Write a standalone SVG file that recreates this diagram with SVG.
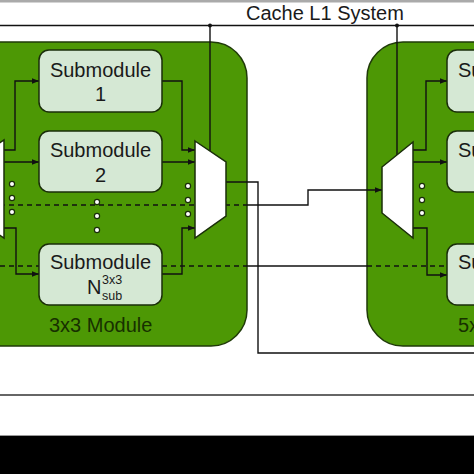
<svg xmlns="http://www.w3.org/2000/svg" width="474" height="474" viewBox="0 0 474 474">
<defs>
<marker id="arr" viewBox="0 0 10 10" refX="10" refY="5" markerWidth="7" markerHeight="7" markerUnits="userSpaceOnUse" orient="auto"><path d="M0,1 L10,5 L0,9 z" fill="#111"/></marker>
</defs>
<style>
.mod{fill:#4d9805;stroke:#1f3a08;stroke-width:1.5}
.box{fill:#d5e8d4;stroke:#1a2e0a;stroke-width:1.5}
.mux{fill:#fff;stroke:#1a2e0a;stroke-width:1.5}
.t{font-family:"Liberation Sans",Arial,sans-serif;font-size:20px;fill:#1a1a1a}
.s{font-size:12.5px}
.g{fill:#173000}
.ln{fill:none;stroke:#111;stroke-width:1.4}
.ds{fill:none;stroke:#111;stroke-width:1.4;stroke-dasharray:5,4}
.dot{fill:#fff;stroke:#1a2e0a;stroke-width:1.2}
.jn{fill:#111}
</style>
<rect x="0" y="0" width="474" height="474" fill="#fff"/>
<rect x="0" y="0" width="474" height="2.5" fill="#aaa"/>
<g id="module3x3"><rect class="mod" x="-40" y="42" width="287" height="304" rx="36"/></g>
<g id="module5x5"><rect class="mod" x="367" y="42" width="180" height="304" rx="36"/></g>
<text class="t" x="246" y="20">Cache L1 System</text>
<g id="connectors">
<path class="ln" d="M0,25.5 H474"/>
<path class="ln" d="M210,25.5 V151"/>
<path class="ln" d="M397,25.5 V155"/>
<circle class="jn" cx="210" cy="25.5" r="2"/>
<circle class="jn" cx="397" cy="25.5" r="2"/>
<path class="ln" d="M4,150 H15 V81 H39" marker-end="url(#arr)"/>
<path class="ln" d="M4,162 H39" marker-end="url(#arr)"/>
<path class="ln" d="M4,228 H16 V274 H39" marker-end="url(#arr)"/>
<path class="ln" d="M162,81 H182 V150 H195" marker-end="url(#arr)"/>
<path class="ln" d="M162,162 H195" marker-end="url(#arr)"/>
<path class="ln" d="M162,274 H182 V228 H195" marker-end="url(#arr)"/>
<path class="ds" d="M0,205 H247"/>
<path class="ln" d="M247,205 H308 V190 H382" marker-end="url(#arr)"/>
<path class="ds" d="M0,266 H247"/>
<path class="ln" d="M247,266 H367"/>
<path class="ds" d="M367,266 H447"/>
<path class="ln" d="M226,182 H258 V353 H474"/>
<path class="ln" d="M413,150 H426 V81 H447" marker-end="url(#arr)"/>
<path class="ln" d="M413,162 H447" marker-end="url(#arr)"/>
<path class="ln" d="M413,228 H427 V275 H447" marker-end="url(#arr)"/>
</g>
<g id="splitter3x3"><polygon class="mux" points="-27,161 4,140 4,238 -27,217"/></g>
<g id="mux3x3"><polygon class="mux" points="195,141 226,162 226,216 195,238"/></g>
<g id="mux5x5"><polygon class="mux" points="413,142 382,167 382,213 413,238"/></g>
<g id="sub1"><rect class="box" x="39" y="50" width="123" height="62" rx="10"/>
<text class="t" x="100.5" y="77" text-anchor="middle">Submodule</text>
<text class="t" x="100.5" y="101" text-anchor="middle">1</text></g>
<g id="sub2"><rect class="box" x="39" y="131" width="123" height="61" rx="10"/>
<text class="t" x="100.5" y="157" text-anchor="middle">Submodule</text>
<text class="t" x="100.5" y="182" text-anchor="middle">2</text></g>
<g id="subN"><rect class="box" x="39" y="244" width="123" height="61" rx="10"/>
<text class="t" x="100.5" y="269" text-anchor="middle">Submodule</text>
<text class="t" x="87" y="294">N</text>
<text class="t s" x="102" y="284">3x3</text>
<text class="t s" x="102" y="300">sub</text></g>
<text class="t g" x="49" y="332">3x3 Module</text>
<g id="r-sub1"><rect class="box" x="447" y="50" width="123" height="62" rx="10"/>
<text class="t" x="458" y="77">Submodule</text></g>
<g id="r-sub2"><rect class="box" x="447" y="131" width="123" height="61" rx="10"/>
<text class="t" x="458" y="157">Submodule</text></g>
<g id="r-subN"><rect class="box" x="447" y="244" width="123" height="61" rx="10"/>
<text class="t" x="458" y="269">Submodule</text></g>
<text class="t g" x="458" y="332">5x5 Module</text>
<g id="dots">
<circle class="dot" cx="12" cy="184" r="2.6"/><circle class="dot" cx="12" cy="198" r="2.6"/><circle class="dot" cx="12" cy="212" r="2.6"/>
<circle class="dot" cx="188" cy="186" r="2.6"/><circle class="dot" cx="188" cy="200" r="2.6"/><circle class="dot" cx="188" cy="214" r="2.6"/>
<circle class="dot" cx="97" cy="202" r="2.6"/><circle class="dot" cx="97" cy="216" r="2.6"/><circle class="dot" cx="97" cy="230" r="2.6"/>
<circle class="dot" cx="422" cy="186" r="2.6"/><circle class="dot" cx="422" cy="200" r="2.6"/><circle class="dot" cx="422" cy="213" r="2.6"/>
</g>
<path d="M0,395 H474" stroke="#333" stroke-width="1.6" fill="none"/>
<rect x="0" y="435.5" width="474" height="38.5" fill="#000"/>
<path d="M0,435.5 H474" stroke="#999" stroke-width="1" fill="none"/>
</svg>
